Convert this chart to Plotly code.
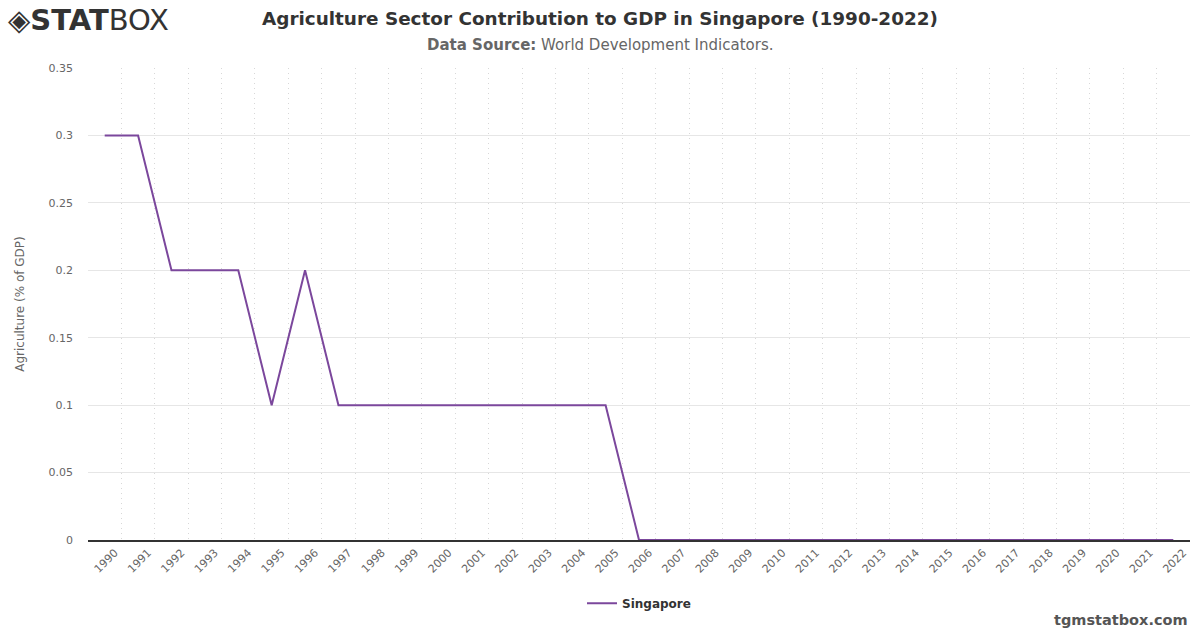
import plotly.graph_objects as go

years = list(range(1990, 2023))
values = [0.3, 0.3, 0.2, 0.2, 0.2, 0.1, 0.2, 0.1, 0.1, 0.1, 0.1, 0.1, 0.1, 0.1, 0.1, 0.1,
          0.0, 0.0, 0.0, 0.0, 0.0, 0.0, 0.0, 0.0, 0.0, 0.0, 0.0, 0.0, 0.0, 0.0, 0.0, 0.0, 0.0]
tick_labels = [str(y) for y in years]
y_ticks = [0, 0.05, 0.1, 0.15, 0.2, 0.25, 0.3, 0.35]
y_tick_labels = ["0", "0.05", "0.1", "0.15", "0.2", "0.25", "0.3", "0.35"]

FONT = "DejaVu Sans"
line_color = "#7b479c"

fig = go.Figure()
fig.add_trace(go.Scatter(
    x=years, y=values, mode="lines", name="Singapore",
    line=dict(color=line_color, width=2),
))

boundaries = [y - 0.5 for y in years] + [years[-1] + 0.5]
label_pos = [y + 0.3 for y in years]

fig.update_layout(
    width=1200, height=630,
    margin=dict(l=88, r=10, t=68, b=90),
    paper_bgcolor="white", plot_bgcolor="white",
    font=dict(family=FONT, color="#666666", size=11),
    showlegend=True,
    legend=dict(orientation="h", x=0.5, xanchor="center", y=-0.134, yanchor="middle",
                font=dict(size=12, color="#333333", family=FONT, weight="bold"),
                itemwidth=30),
    xaxis=dict(
        range=[1989.5, 2022.5],
        tickmode="array", tickvals=label_pos, ticktext=tick_labels,
        tickangle=-45, showgrid=False, zeroline=False,
        showline=True, linecolor="#333333", linewidth=2,
        ticks="", tickfont=dict(size=11, color="#666666"),
        minor=dict(tickmode="array", tickvals=boundaries, showgrid=True,
                   gridcolor="#d8d8d8", griddash="1px,4px", gridwidth=1, ticks=""),
    ),
    yaxis=dict(
        range=[0, 0.35],
        tickmode="array", tickvals=y_ticks, ticktext=y_tick_labels,
        showgrid=True, gridcolor="#e6e6e6", gridwidth=1, zeroline=False,
        ticks="", ticklabelstandoff=14,
        tickfont=dict(size=11, color="#666666"),
        title=dict(text="Agriculture (% of GDP)", font=dict(size=12, color="#666666"), standoff=21),
    ),
)

W, H = 1200, 630
l, r, t, b = 88, 10, 68, 90
pw, ph = W - l - r, H - t - b

def px(xp, yp):
    return (xp - l) / pw, (H - b - yp) / ph

anns = [
    ("<b>Agriculture Sector Contribution to GDP in Singapore (1990-2022)</b>", 600, 18, 18.4, "#333333", "center"),
    ("<b>Data Source:</b> World Development Indicators.", 600, 45, 15, "#666666", "center"),
    ("<b>tgmstatbox.com</b>", 1190, 620, 14.5, "#555555", "right"),
    ("◈<b>STAT</b>BOX", 6, 20, 29, "#333333", "left"),
]
for text, xp, yp, size, color, anchor in anns:
    xx, yy = px(xp, yp)
    fig.add_annotation(text=text, x=xx, y=yy, xref="paper", yref="paper", showarrow=False,
                       font=dict(size=size, color=color, family=FONT),
                       xanchor=anchor, yanchor="middle")

fig.write_html("out.html")
